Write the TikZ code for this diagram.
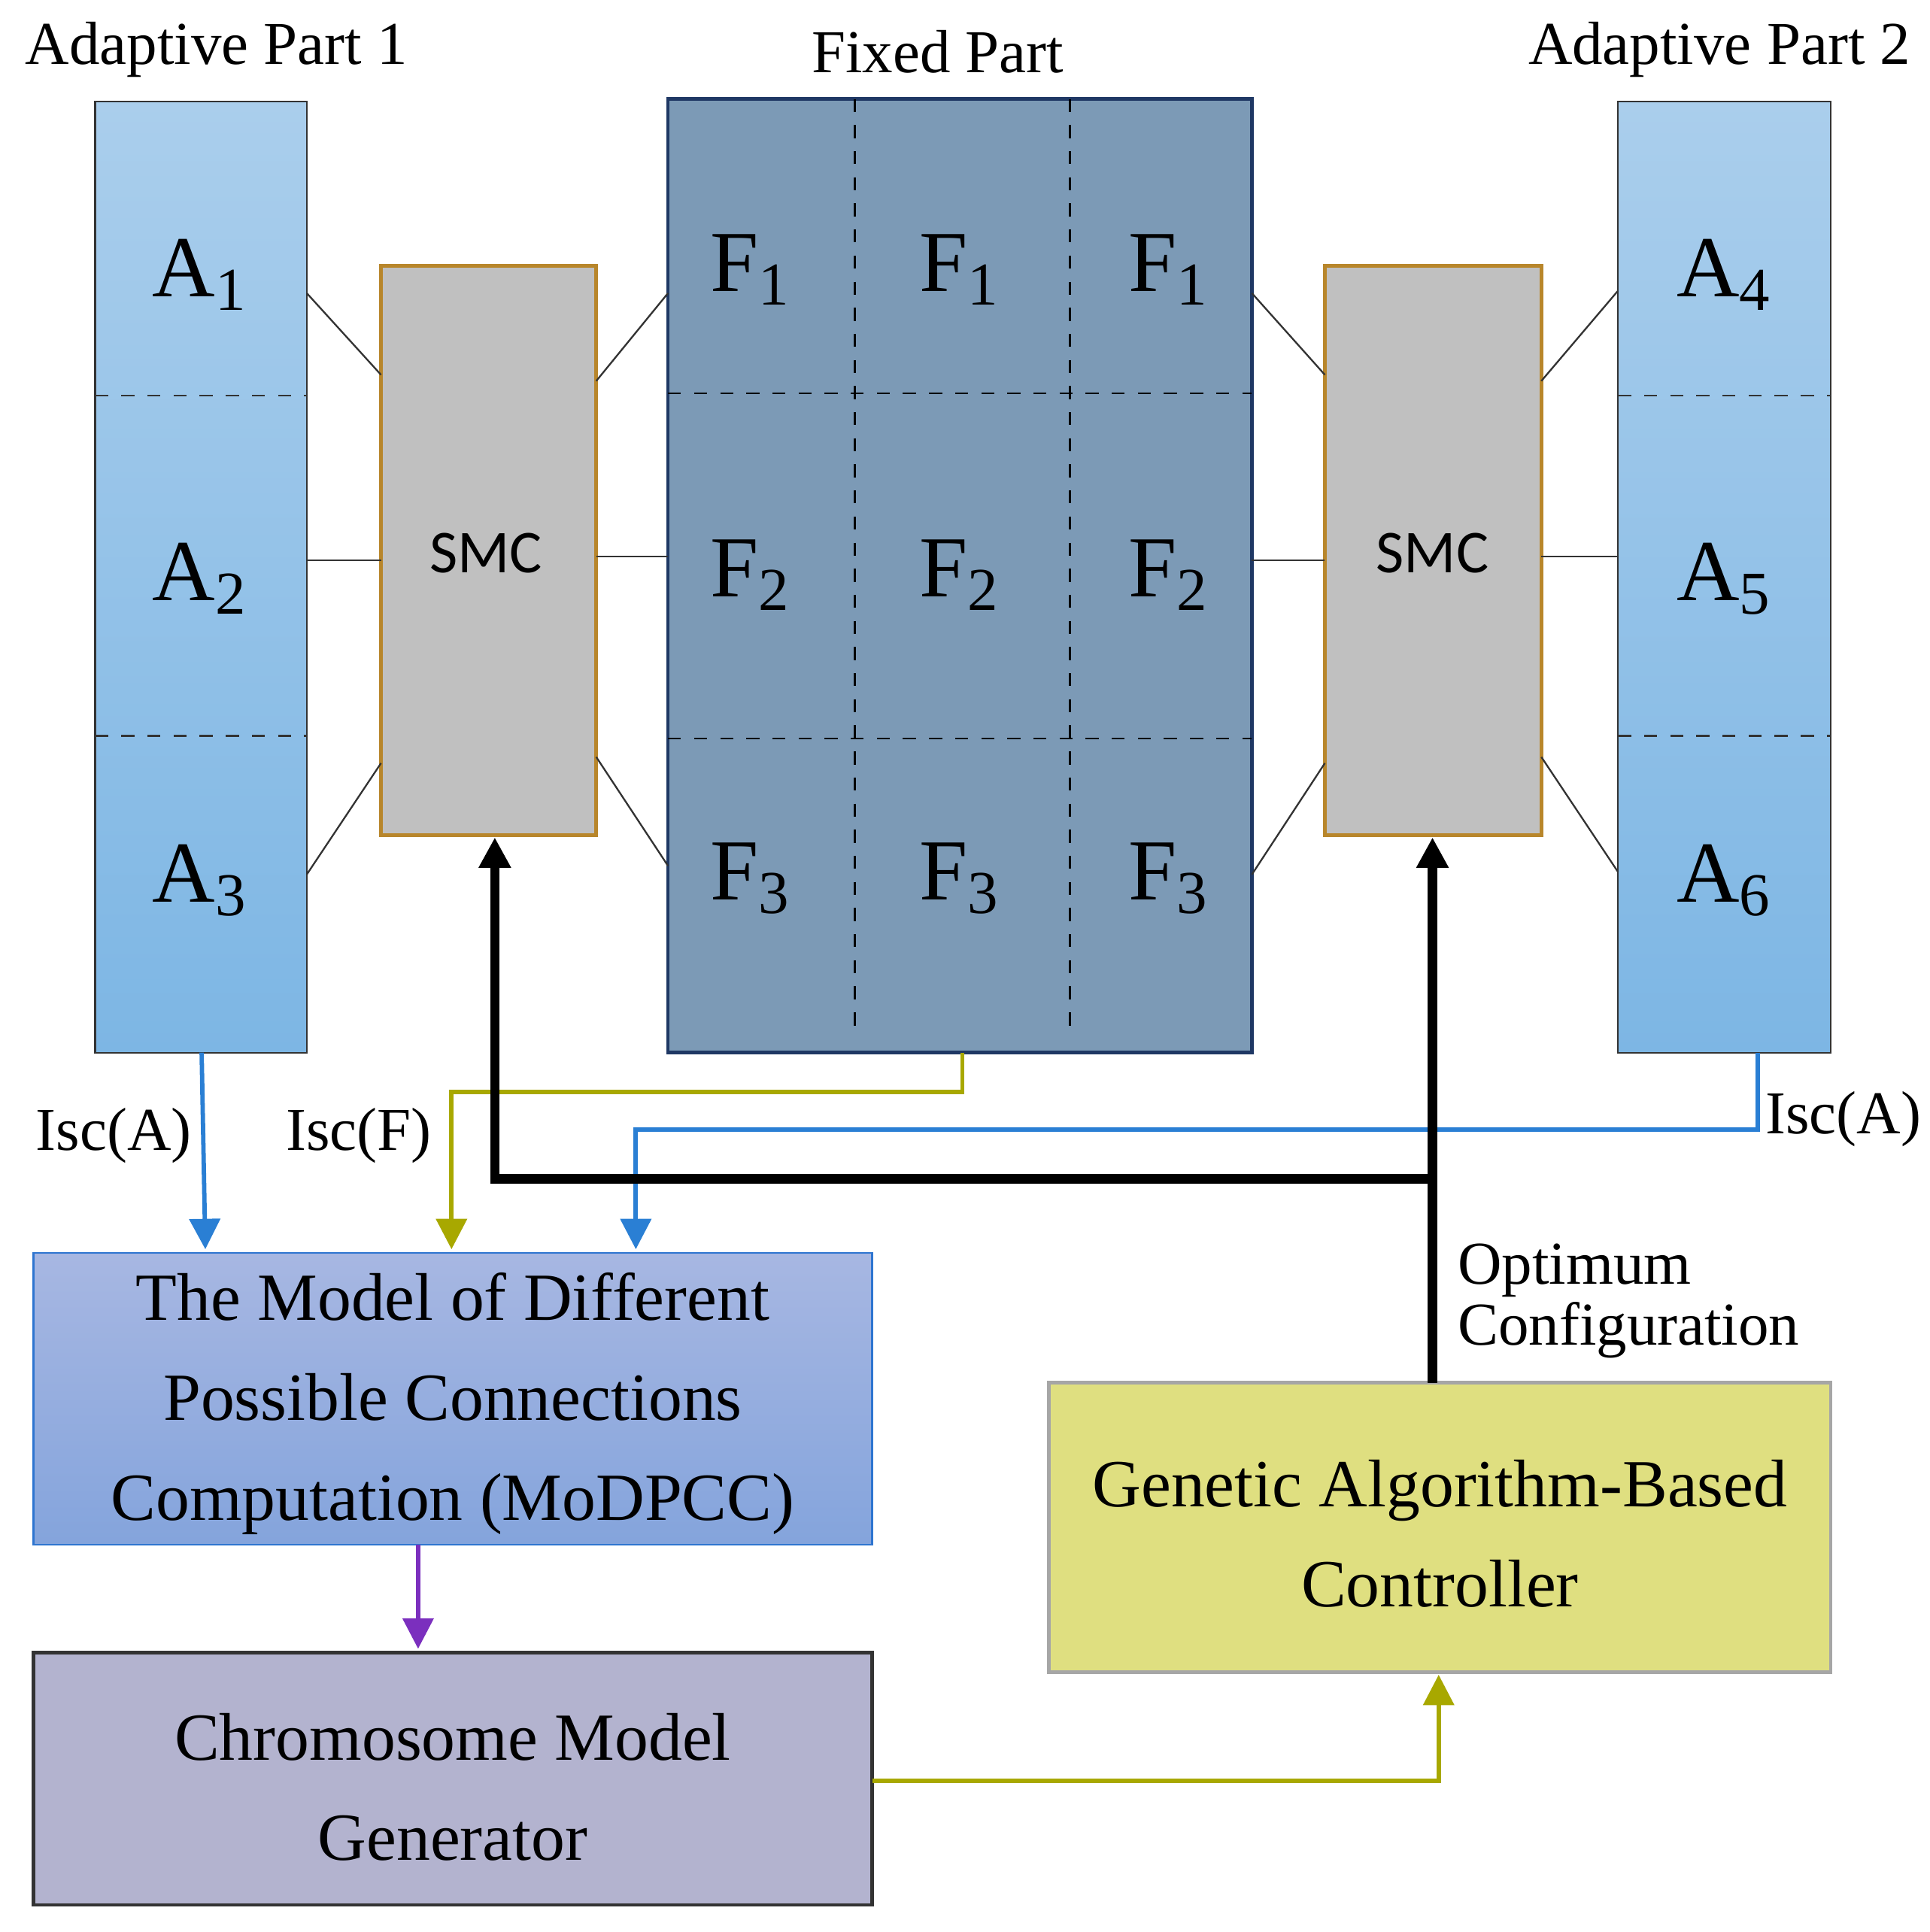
\documentclass[tikz,border=0pt]{standalone}
\usepackage{fontspec}
\setmainfont{Liberation Serif}
\newfontfamily\smcfont{Carlito}
\usetikzlibrary{arrows.meta}
\definecolor{acolTop}{HTML}{AACEEC}
\definecolor{acolBot}{HTML}{7DB6E4}
\definecolor{fixfill}{HTML}{7C9AB6}
\definecolor{fixedge}{HTML}{1F3864}
\definecolor{smcfill}{HTML}{C0C0C0}
\definecolor{smcedge}{HTML}{B8862B}
\definecolor{modTop}{HTML}{A7B7E2}
\definecolor{modBot}{HTML}{84A4DC}
\definecolor{modedge}{HTML}{2E75D0}
\definecolor{chrfill}{HTML}{B3B3CF}
\definecolor{gafill}{HTML}{DFDF80}
\definecolor{olive}{HTML}{A8A800}
\definecolor{blueln}{HTML}{2A7FD4}
\definecolor{purp}{HTML}{7B2FBE}
\tikzset{
  acol/.style={draw=black!80,top color=acolTop,bottom color=acolBot},
  smc/.style={draw=smcedge,fill=smcfill,thick},
  cell/.style={font=\fontsize{20}{22}\selectfont},
  link/.style={black!80,thin},
  lbl/.style={font=\fontsize{14}{16}\selectfont},
  boxtxt/.style={font=\fontsize{15.5}{23}\selectfont,align=center},
  arr/.style={line width=1.3pt,-{Triangle[length=7pt,width=7pt]}},
}
\begin{document}
\begin{tikzpicture}[x=0.01cm,y=-0.01cm]
\useasboundingbox (0,0) rectangle (1560,1562);
% titles
\node[lbl] at (175,40) {Adaptive Part 1};
\node[lbl] at (758,42) {Fixed Part};
\node[lbl] at (1390,40) {Adaptive Part 2};
% adaptive columns
\draw[acol] (77,82) rectangle (248,851);
\draw[acol] (1308,82) rectangle (1480,851);
\foreach \x/\xx in {77/248,1308/1480}{
  \draw[dashed,black!80] (\x,320) -- (\xx,320);
  \draw[dashed,black!80] (\x,595) -- (\xx,595);
}
\node[cell] (a1) at (162,222) {A\textsubscript{1}};
\node[cell] (a2) at (162,468) {A\textsubscript{2}};
\node[cell] (a3) at (162,712) {A\textsubscript{3}};
\node[cell] (a4) at (1394,222) {A\textsubscript{4}};
\node[cell] (a5) at (1394,468) {A\textsubscript{5}};
\node[cell] (a6) at (1394,712) {A\textsubscript{6}};
% fixed part
\draw[draw=fixedge,fill=fixfill,thick] (540,80) rectangle (1012,851);
\draw[dashed] (691,80) -- (691,835);
\draw[dashed] (865,80) -- (865,835);
\draw[dashed] (540,318) -- (1012,318);
\draw[dashed] (540,597) -- (1012,597);
\foreach \x in {607,776,945}{
  \node[cell] at (\x,218) {F\textsubscript{1}};
  \node[cell] at (\x,465) {F\textsubscript{2}};
  \node[cell] at (\x,710) {F\textsubscript{3}};
}
% SMC boxes
\draw[smc] (308,215) rectangle (482,675);
\draw[smc] (1071,215) rectangle (1246,675);
\node[font=\smcfont\fontsize{14}{16}\selectfont] (smcl) at (393,447) {SMC};
\node[font=\smcfont\fontsize{14}{16}\selectfont] (smcr) at (1158,447) {SMC};
% links
\draw[link] (248,237) -- (308,303);
\draw[link] (248,453) -- (308,453);
\draw[link] (248,707) -- (308,617);
\draw[link] (482,308) -- (540,237);
\draw[link] (482,450) -- (540,450);
\draw[link] (482,612) -- (540,700);
\draw[link] (1012,237) -- (1071,303);
\draw[link] (1012,453) -- (1071,453);
\draw[link] (1012,707) -- (1071,617);
\draw[link] (1246,308) -- (1308,235);
\draw[link] (1246,450) -- (1308,450);
\draw[link] (1246,612) -- (1308,705);
% lower boxes
\draw[draw=modedge,top color=modTop,bottom color=modBot] (27,1013) rectangle (705,1249);
\node[boxtxt] (mod) at (366,1135) {The Model of Different\\Possible Connections\\Computation (MoDPCC)};
\draw[draw=black!80,fill=chrfill,thick] (27,1336) rectangle (705,1540);
\node[boxtxt] (chr) at (366,1445) {Chromosome Model\\Generator};
\draw[draw=black!35,fill=gafill,thick] (848,1118) rectangle (1480,1352);
\node[boxtxt] (ga) at (1164,1240) {Genetic Algorithm-Based\\Controller};
% signal arrows
\draw[arr,blueln,line width=1pt] (163,851) -- (166,1010);
\node[lbl,anchor=center] at (92,918) {Isc(A)};
\draw[arr,olive,line width=1pt] (778,851) -- (778,883) -- (365,883) -- (365,1010);
\node[lbl] at (290,918) {Isc(F)};
\draw[arr,blueln,line width=1pt] (1421,851) -- (1421,913) -- (514,913) -- (514,1010);
\node[lbl] at (1490,905) {Isc(A)};
\draw[arr,line width=2.2pt] (1158,1118) -- (1158,677);
\draw[arr,line width=2.2pt] (1158,953) -- (400,953) -- (400,677);
\node[lbl,anchor=west,align=left] at (1166,1052) {Optimum\\[-2pt]Configuration};
\draw[arr,purp,line width=1pt] (338,1249) -- (338,1333);
\draw[arr,olive,line width=1pt] (705,1440) -- (1163,1440) -- (1163,1354);
\end{tikzpicture}
\end{document}
